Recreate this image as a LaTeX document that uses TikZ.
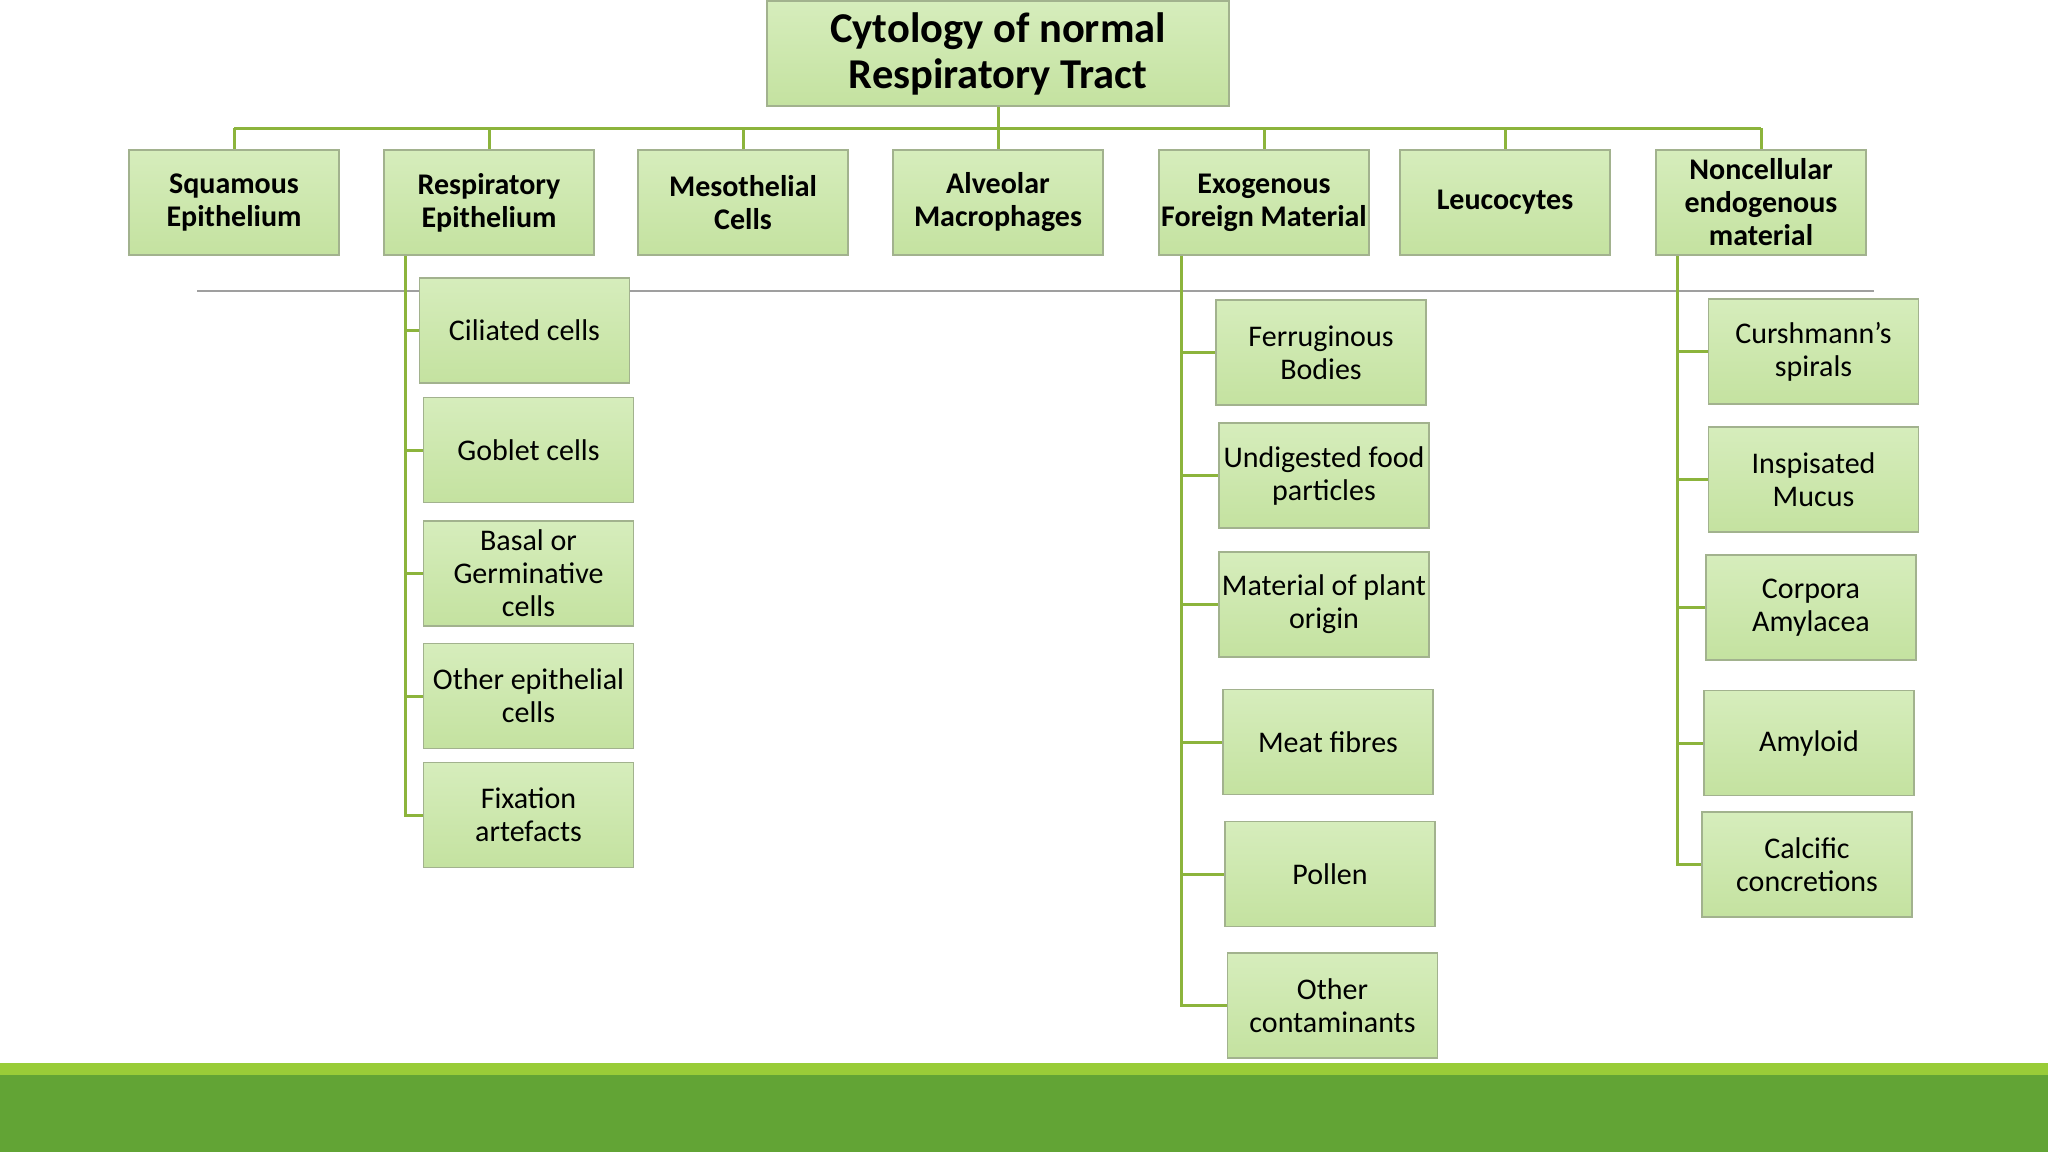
\documentclass[tikz,border=0pt]{standalone}
\usepackage{fontspec}
\setmainfont{Carlito}
\definecolor{boxtop}{HTML}{D6EDBC}
\definecolor{boxbot}{HTML}{C4E2A0}
\definecolor{boxline}{HTML}{A2B28E}
\definecolor{conn}{HTML}{8CB43C}
\definecolor{bandlight}{HTML}{99CC38}
\definecolor{banddark}{HTML}{62A435}
\begin{document}
\begin{tikzpicture}[x=1pt,y=-1pt,
  box/.style={rectangle,draw=boxline,line width=1.5pt,top color=boxtop,bottom color=boxbot,
    minimum width=210pt,minimum height=105pt,inner sep=0pt,align=center,text=black},
  l1/.style={box,font=\fontsize{30}{33}\selectfont\bfseries},
  l2/.style={box,font=\fontsize{30}{33}\selectfont},
  conline/.style={draw=conn,line width=3pt}]
\useasboundingbox (0,0) rectangle (2048,1152);
\fill[white] (0,0) rectangle (2048,1152);
% bottom band
\fill[bandlight] (0,1063) rectangle (2048,1075);
\fill[banddark] (0,1075) rectangle (2048,1152);
% gray rule
\draw[color=gray!75,line width=1.5pt] (197,291) -- (1874,291);
% title
\node[box,minimum width=462pt,minimum height=105pt,font=\fontsize{42.5}{46}\selectfont\bfseries] (title) at (998,53.5) {Cytology of normal\\Respiratory Tract};
% level 1
\node[l1] (sq) at (234,202.5) {Squamous\\Epithelium};
\node[l1] (re) at (489,202.5) {Respiratory\\Epithelium};
\node[l1] (me) at (743,202.5) {Mesothelial\\Cells};
\node[l1] (al) at (998,202.5) {Alveolar\\Macrophages};
\node[l1] (ex) at (1264,202.5) {Exogenous\\Foreign Material};
\node[l1] (le) at (1505,202.5) {Leucocytes};
\node[l1] (nc) at (1761,202.5) {Noncellular\\endogenous\\material};
% level 2 respiratory
\node[l2] (ci) at (524.5,330.5) {Ciliated cells};
\node[l2] (go) at (528.5,450) {Goblet cells};
\node[l2] (ba) at (528.5,573.5) {Basal or\\Germinative\\cells};
\node[l2] (ot) at (528.5,696) {Other epithelial\\cells};
\node[l2] (fi) at (528.5,815) {Fixation\\artefacts};
% level 2 exogenous
\node[l2] (fe) at (1321,352.5) {Ferruginous\\Bodies};
\node[l2] (un) at (1324,475.5) {Undigested food\\particles};
\node[l2] (pl) at (1324,604.5) {Material of plant\\origin};
\node[l2] (mf) at (1328,742) {Meat fibres};
\node[l2] (po) at (1330,874) {Pollen};
\node[l2] (oc) at (1332.5,1005.5) {Other\\contaminants};
% level 2 noncellular
\node[l2] (cu) at (1813.5,351.5) {Curshmann’s\\spirals};
\node[l2] (in) at (1813.5,479.5) {Inspisated\\Mucus};
\node[l2] (co) at (1811,607.5) {Corpora\\Amylacea};
\node[l2] (am) at (1809,743) {Amyloid};
\node[l2] (ca) at (1807,864.5) {Calcific\\concretions};
% connectors top
\coordinate (bus) at (0,128);
\draw[conline] (title.south) -- (title.south |- bus);
\draw[conline] (sq.north |- bus) -- (nc.north |- bus);
\foreach \n in {sq,re,me,al,ex,le,nc}{\draw[conline] (\n.north) -- (\n.north |- bus);}
% respiratory branch
\coordinate (rv) at (405,256);
\draw[conline] (rv) |- (fi.west);
\foreach \n in {ci,go,ba,ot}{\draw[conline] (rv |- \n.west) -- (\n.west);}
% exogenous branch
\coordinate (ev) at (1181,256);
\draw[conline] (ev) |- (oc.west);
\foreach \n in {fe,un,pl,mf,po}{\draw[conline] (ev |- \n.west) -- (\n.west);}
% noncellular branch
\coordinate (nv) at (1677,256);
\draw[conline] (nv) |- (ca.west);
\foreach \n in {cu,in,co,am}{\draw[conline] (nv |- \n.west) -- (\n.west);}
\end{tikzpicture}
\end{document}
